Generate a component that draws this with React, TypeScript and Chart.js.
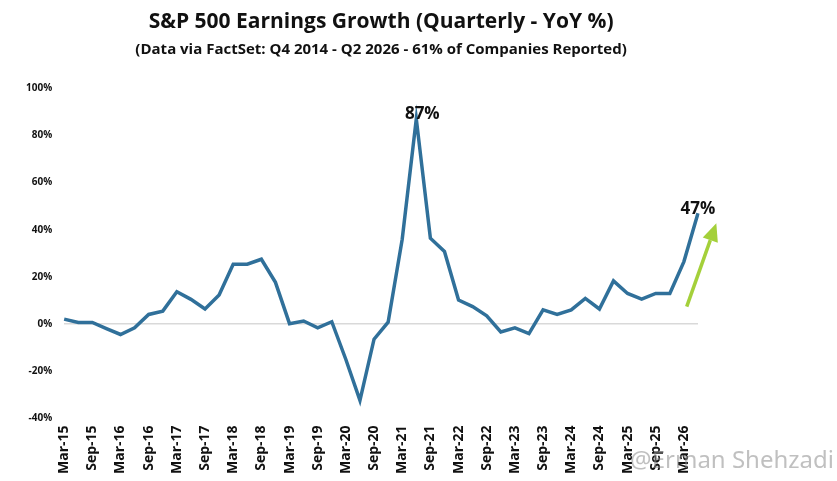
import React, { useEffect, useRef } from "react";
import { Chart, registerables } from "chart.js";

Chart.register(...registerables);

const quarters: string[] = [
  "Mar-15", "Jun-15", "Sep-15", "Dec-15",
  "Mar-16", "Jun-16", "Sep-16", "Dec-16",
  "Mar-17", "Jun-17", "Sep-17", "Dec-17",
  "Mar-18", "Jun-18", "Sep-18", "Dec-18",
  "Mar-19", "Jun-19", "Sep-19", "Dec-19",
  "Mar-20", "Jun-20", "Sep-20", "Dec-20",
  "Mar-21", "Jun-21", "Sep-21", "Dec-21",
  "Mar-22", "Jun-22", "Sep-22", "Dec-22",
  "Mar-23", "Jun-23", "Sep-23", "Dec-23",
  "Mar-24", "Jun-24", "Sep-24", "Dec-24",
  "Mar-25", "Jun-25", "Sep-25", "Dec-25",
  "Mar-26", "Jun-26",
];

const earningsGrowth: number[] = [
  2.1, 0.7, 0.7, -1.9,
  -4.4, -1.6, 4.1, 5.5,
  13.7, 10.5, 6.4, 12.3,
  25.4, 25.4, 27.5, 17.7,
  0.2, 1.3, -1.6, 1.0,
  -15, -32.3, -6.4, 0.8,
  36, 87, 36.4, 30.8,
  10.2, 7.4, 3.5, -3.3,
  -1.6, -4.0, 6.0, 4.1,
  6.0, 10.9, 6.4, 18.3,
  13.0, 10.6, 13.0, 13.0,
  26.5, 47,
];

const yTicks: number[] = [-40, -20, 0, 20, 40, 60, 80, 100];
const calloutIndexes: number[] = [25, 45];
const titleText = "S&P 500 Earnings Growth (Quarterly - YoY %)";
const subtitleText = "(Data via FactSet: Q4 2014 - Q2 2026 - 61% of Companies Reported)";
const watermarkText = "@Erman Shehzadi";
// arrow annotation in (category index, value) coordinates
const arrowFrom: number[] = [44.2, 7.4];
const arrowTo: number[] = [46.3, 42.8];

const FONT = '"Open Sans", "DejaVu Sans", sans-serif';

const annotPlugin = {
  id: "annot",
  afterDatasetsDraw(chart: any) {
    const ctx = chart.ctx;
    const meta = chart.getDatasetMeta(0);
    const xs = chart.scales.x;
    const ys = chart.scales.y;
    ctx.save();
    ctx.font = `bold 17px ${FONT}`;
    ctx.fillStyle = "#111";
    ctx.textAlign = "center";
    ctx.textBaseline = "bottom";
    calloutIndexes.forEach((i, k) => {
      const p = meta.data[i];
      ctx.fillText(Math.round(earningsGrowth[i]) + "%", p.x + (k === 0 ? 6 : 0), p.y + 4);
    });
    // arrow
    const x1 = xs.getPixelForValue(arrowFrom[0]);
    const y1 = ys.getPixelForValue(arrowFrom[1]);
    const x2 = xs.getPixelForValue(arrowTo[0]);
    const y2 = ys.getPixelForValue(arrowTo[1]);
    const ang = Math.atan2(y2 - y1, x2 - x1);
    const headLen = 18;
    const headW = 8;
    const bx = x2 - headLen * Math.cos(ang);
    const by = y2 - headLen * Math.sin(ang);
    ctx.strokeStyle = "#a4d03a";
    ctx.fillStyle = "#a4d03a";
    ctx.lineWidth = 3.5;
    ctx.beginPath();
    ctx.moveTo(x1, y1);
    ctx.lineTo(bx, by);
    ctx.stroke();
    ctx.beginPath();
    ctx.moveTo(x2, y2);
    ctx.lineTo(bx + headW * Math.sin(ang), by - headW * Math.cos(ang));
    ctx.lineTo(bx - headW * Math.sin(ang), by + headW * Math.cos(ang));
    ctx.closePath();
    ctx.fill();
    ctx.restore();
  },
  afterDraw(chart: any) {
    const ctx = chart.ctx;
    ctx.save();
    ctx.font = `24px "Noto Sans", ${FONT}`;
    ctx.fillStyle = "rgba(140,140,140,0.55)";
    ctx.textAlign = "right";
    ctx.textBaseline = "alphabetic";
    ctx.fillText(watermarkText, chart.width - 3, chart.height - 13);
    ctx.restore();
  },
};

export default function App() {
  const ref = useRef<HTMLCanvasElement | null>(null);
  useEffect(() => {
    document.body.style.margin = "0";
    const canvas = ref.current;
    if (!canvas) return;
    const chart = new Chart(canvas, {
      type: "line",
      data: {
        labels: quarters,
        datasets: [
          {
            data: earningsGrowth,
            borderColor: "#30709a",
            borderWidth: 3.5,
            pointRadius: 0,
            tension: 0,
            fill: false,
          },
        ],
      },
      options: {
        responsive: false,
        animation: false,
        layout: { padding: { left: 14, right: 139, top: 0, bottom: 0 } },
        plugins: {
          legend: { display: false },
          tooltip: { enabled: false },
          title: {
            display: true,
            text: titleText,
            fullSize: false,
            color: "#111",
            font: { family: FONT, size: 21, weight: "bold", lineHeight: 1.2 },
            padding: { top: 9, bottom: 2 },
          },
          subtitle: {
            display: true,
            text: subtitleText,
            fullSize: false,
            color: "#111",
            font: { family: FONT, size: 15, weight: "bold", lineHeight: 1.2 },
            padding: { top: 5, bottom: 29 },
          },
        },
        scales: {
          x: {
            offset: false,
            grid: { display: false, drawTicks: false },
            border: { display: false },
            ticks: {
              autoSkip: false,
              maxRotation: 90,
              minRotation: 90,
              padding: 7,
              color: "#111",
              font: { family: FONT, size: 14, weight: "bold" },
              callback: (_v: any, i: number) => (i % 2 === 0 ? quarters[i] : ""),
            },
          },
          y: {
            min: -40,
            max: 100,
            afterBuildTicks: (axis: any) => {
              axis.ticks = yTicks.map((v) => ({ value: v }));
            },
            grid: {
              drawTicks: false,
              color: (c: any) => (c.tick && c.tick.value === 0 ? "#d9d9d9" : "rgba(0,0,0,0)"),
              lineWidth: 1.5,
            },
            border: { display: false },
            ticks: {
              padding: 12,
              color: "#111",
              font: { family: FONT, size: 10, weight: "bold" },
              callback: (v: any) => v + "%",
            },
          },
        },
      },
      plugins: [annotPlugin],
    } as any);
    return () => chart.destroy();
  }, []);
  return (
    <div style={{ width: 837, height: 481, background: "#fff" }}>
      <canvas ref={ref} width={837} height={481} style={{ display: "block", width: 837, height: 481 }} />
    </div>
  );
}
